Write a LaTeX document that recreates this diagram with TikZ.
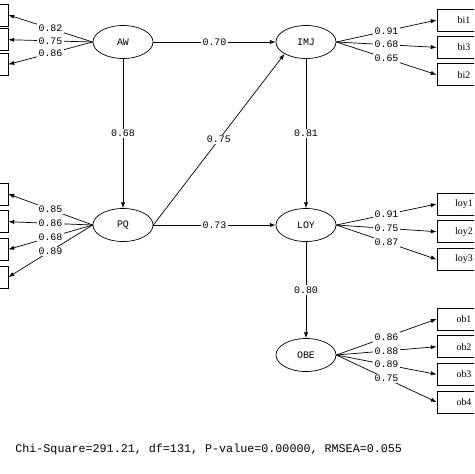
\documentclass[tikz,border=0pt]{standalone}
\usepackage{fontspec}
\setmainfont{Liberation Serif}
\setmonofont{Liberation Mono}
\usetikzlibrary{arrows.meta,positioning,shapes.geometric}

\begin{document}
\begin{tikzpicture}[x=0.03cm, y=-0.03cm, >={Latex[length=5pt,width=3.6pt]}, line width=0.6pt,
  latent/.style={draw, ellipse, minimum width=1.8cm, minimum height=0.99cm, inner sep=0pt, font=\ttfamily\fontsize{8.5}{10}\selectfont},
  item/.style={draw, rectangle, minimum width=1.62cm, minimum height=0.66cm, inner sep=0pt, font=\fontsize{8.5}{10}\selectfont},
  coef/.style={fill=white, inner sep=1pt, font=\ttfamily\fontsize{8.5}{10}\selectfont}]
  \useasboundingbox (0,0) rectangle (474,474);
  \clip (0,0) rectangle (474,474);

  % latent variables
  \node[latent] (aw) at (123,42) {AW};
  \node[latent] (imj) at (306,42) {IMJ};
  \node[latent] (pq) at (123,225) {PQ};
  \node[latent] (loy) at (306,225) {LOY};
  \node[latent] (obe) at (306,355) {OBE};

  % observed variables, left
  \node[item] (aw1) at (-19,15) {};
  \node[item, below=0.06cm of aw1] (aw2) {};
  \node[item, below=0.06cm of aw2] (aw3) {};
  \node[item] (pq1) at (-19,194) {};
  \node[item, below=0.15cm of pq1] (pq2) {};
  \node[item, below=0.15cm of pq2] (pq3) {};
  \node[item, below=0.15cm of pq3] (pq4) {};

  % observed variables, right
  \node[item] (bi1) at (464,20) {bi1};
  \node[item, below=0.14cm of bi1] (bi3) {bi3};
  \node[item, below=0.14cm of bi3] (bi2) {bi2};
  \node[item] (loy1) at (464,204) {loy1};
  \node[item, below=0.15cm of loy1] (loy2) {loy2};
  \node[item, below=0.15cm of loy2] (loy3) {loy3};
  \node[item] (ob1) at (464,319) {ob1};
  \node[item, below=0.15cm of ob1] (ob2) {ob2};
  \node[item, below=0.15cm of ob2] (ob3) {ob3};
  \node[item, below=0.15cm of ob3] (ob4) {ob4};

  % structural paths
  \draw[->] (aw) -- node[coef]{0.70} (imj);
  \draw[->] (aw) -- node[coef]{0.68} (pq);
  \draw[->] (pq.east) -- node[coef]{0.75} (imj.south west);
  \draw[->] (pq) -- node[coef]{0.73} (loy);
  \draw[->] (imj) -- node[coef]{0.81} (loy);
  \draw[->] (loy) -- node[coef]{0.80} (obe);

  % loadings
  \draw[->] (aw.west) -- node[coef]{0.82} (aw1.east);
  \draw[->] (aw.west) -- node[coef]{0.75} (aw2.east);
  \draw[->] (aw.west) -- node[coef]{0.86} (aw3.east);
  \draw[->] (pq.west) -- node[coef]{0.85} (pq1.east);
  \draw[->] (pq.west) -- node[coef]{0.86} (pq2.east);
  \draw[->] (pq.west) -- node[coef]{0.68} (pq3.east);
  \draw[->] (pq.west) -- node[coef]{0.89} (pq4.east);
  \draw[->] (imj.east) -- node[coef]{0.91} (bi1.west);
  \draw[->] (imj.east) -- node[coef]{0.68} (bi3.west);
  \draw[->] (imj.east) -- node[coef]{0.65} (bi2.west);
  \draw[->] (loy.east) -- node[coef]{0.91} (loy1.west);
  \draw[->] (loy.east) -- node[coef]{0.75} (loy2.west);
  \draw[->] (loy.east) -- node[coef]{0.87} (loy3.west);
  \draw[->] (obe.east) -- node[coef]{0.86} (ob1.west);
  \draw[->] (obe.east) -- node[coef]{0.88} (ob2.west);
  \draw[->] (obe.east) -- node[coef]{0.89} (ob3.west);
  \draw[->] (obe.east) -- node[coef]{0.75} (ob4.west);

  \node[anchor=west, inner sep=0pt, font=\ttfamily\fontsize{10}{12}\selectfont] (fit) at (15,449)
    {Chi-Square=291.21, df=131, P-value=0.00000, RMSEA=0.055};
\end{tikzpicture}
\end{document}
